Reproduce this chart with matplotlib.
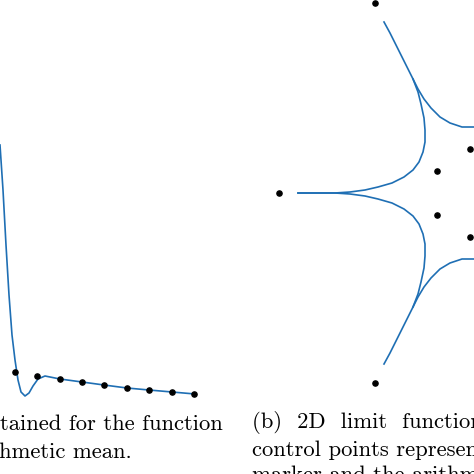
import matplotlib
matplotlib.use("Agg")
import matplotlib.pyplot as plt
import numpy as np

left_x = [0, 3, 6, 9, 12, 15, 18, 21, 25, 29, 33, 38, 45, 60, 82, 104, 127, 149, 172, 195]
left_y = [145, 190, 245, 295, 335, 360, 380, 392, 396, 393, 386, 379, 376, 379, 382, 385, 388, 390, 392, 394]
left_pts_x = [15, 37, 60, 82, 104, 127, 149, 172, 194]
left_pts_y = [372, 376, 379, 382, 385, 388, 390, 392, 394]

outer_x = [384, 390, 396, 402, 408, 413, 418, 424, 431, 440, 450, 462, 474]
outer_y = [22, 33, 45, 57, 69, 79, 89, 99, 108, 117, 123, 127, 127]
inner_x = [413, 418, 421, 424, 425, 425, 423, 419, 413, 404, 392, 378, 365, 350, 335, 320, 298]
inner_y = [79, 92, 104, 118, 130, 142, 152, 162, 170, 177, 183, 187, 190, 192, 193, 193, 193]
right_pts_x = [375, 279, 470, 437, 437, 470, 375]
right_pts_y = [3, 193, 149, 171, 215, 237, 383]
mirror_y = 386

fig = plt.figure(figsize=(4.74, 4.74), dpi=100)
ax = fig.add_axes([0, 0, 1, 1])
ax.set_xlim(0, 474)
ax.set_ylim(474, 0)
ax.axis("off")
c = "#1f6fb4"
ax.plot(left_x, left_y, color=c, lw=1.2)
ax.scatter(left_pts_x, left_pts_y, s=14, color="black", zorder=3)
for ys_o, ys_i in [(outer_y, inner_y), ([mirror_y - v for v in outer_y], [mirror_y - v for v in inner_y])]:
    ax.plot(outer_x, ys_o, color=c, lw=1.2)
    ax.plot(inner_x, ys_i, color=c, lw=1.2)
ax.scatter(right_pts_x, right_pts_y, s=14, color="black", zorder=3)

fam = "cmr10"
fs = 16.3
ax.text(0, 424, "tained for the function", fontsize=fs, family=fam, va="center", ha="left")
ax.text(-16, 452, "ithmetic mean.", fontsize=fs, family=fam, va="center", ha="left", clip_on=True)
ax.text(252, 422, "(b)  2D  limit  function", fontsize=fs, family=fam, va="center", ha="left", clip_on=True)
ax.text(252, 450, "control points represen", fontsize=fs, family=fam, va="center", ha="left", clip_on=True)
ax.text(252, 475, "marker and the arithm", fontsize=fs, family=fam, va="center", ha="left", clip_on=True)
fig.savefig("out.png", dpi=100)
